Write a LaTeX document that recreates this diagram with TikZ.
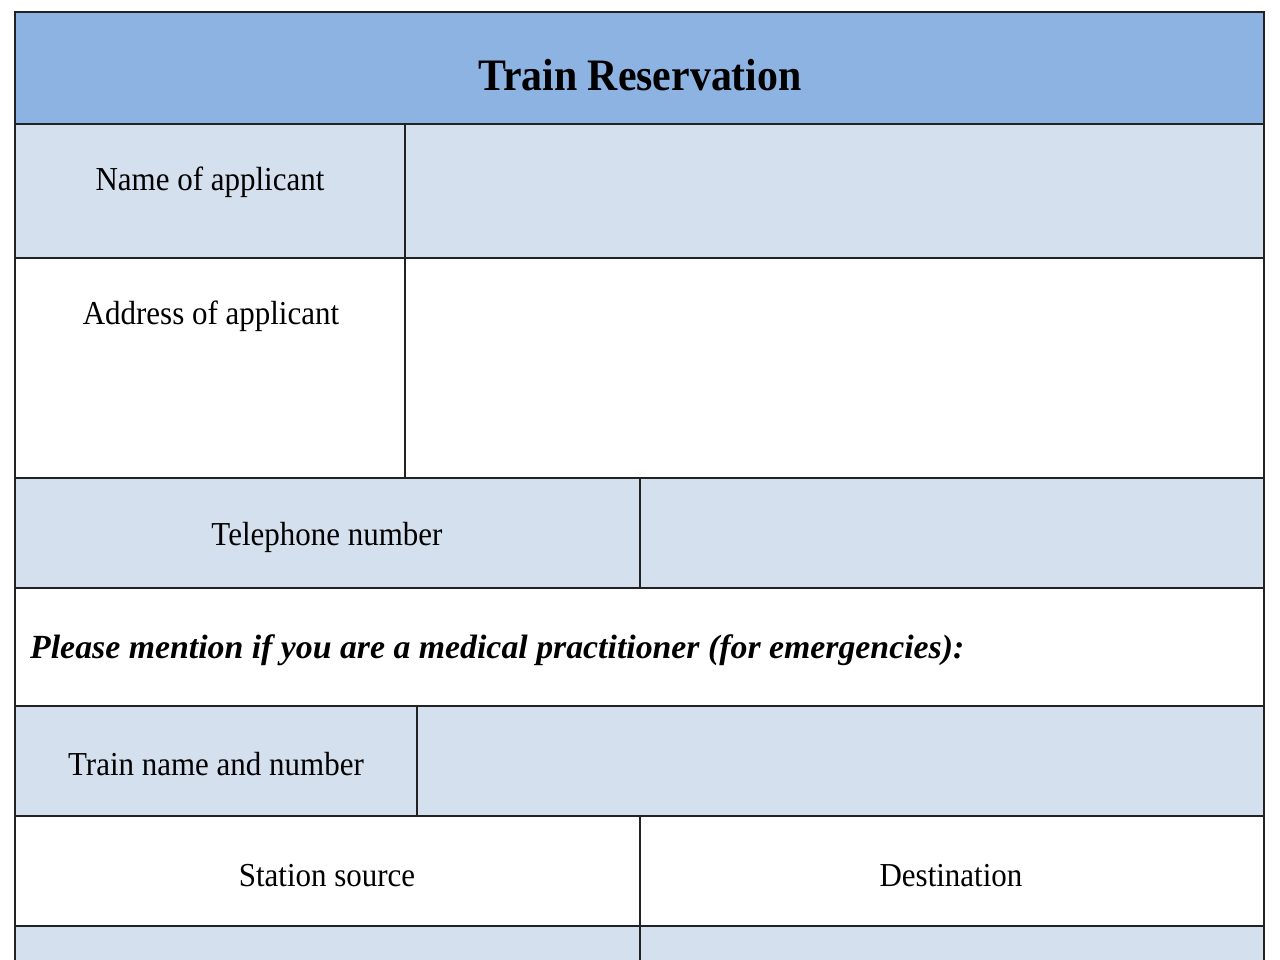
\documentclass[tikz,border=0pt]{standalone}
\usepackage{fontspec}
\usepackage{graphicx}
\setmainfont{Liberation Serif}
\definecolor{hdr}{HTML}{8DB3E2}
\definecolor{lite}{HTML}{D5E0EF}
\definecolor{rule}{HTML}{222222}
\newcommand{\narrowtxt}[1]{\scalebox{0.925}[1]{#1}}
\begin{document}
\begin{tikzpicture}[x=1pt,y=-1pt,
  gridline/.style={draw=rule,line width=2pt},
  label/.style={inner sep=0pt,font=\fontsize{33.5}{36}\selectfont,text=black,anchor=center}]
\useasboundingbox (0,0) rectangle (1280,960);
\clip (0,0) rectangle (1280,960);
\fill[white] (0,0) rectangle (1280,960);
% fills
\fill[hdr] (15,12) rectangle (1264,124);
\fill[lite] (15,124) rectangle (1264,258);
\fill[lite] (15,478) rectangle (1264,588);
\fill[lite] (15,706) rectangle (1264,816);
\fill[lite] (15,926) rectangle (1264,980);
% horizontal rules
\foreach \yy in {124,258,478,588,706,816,926}
  \draw[gridline] (15,\yy) -- (1264,\yy);
% vertical rules
\draw[gridline] (405,124) -- (405,478);
\draw[gridline] (640,478) -- (640,588);
\draw[gridline] (417,706) -- (417,816);
\draw[gridline] (640,816) -- (640,980);
% outer border
\draw[draw=rule,line width=2.6pt] (15,980) -- (15,12) -- (1264,12) -- (1264,980);
% texts
\node[label,font=\bfseries\fontsize{45}{48}\selectfont] (title) at (640,75) {\scalebox{0.93}[1]{Train Reservation}};
\node[label] (name) at (210,182.5) {\narrowtxt{Name of applicant}};
\node[label] (addr) at (211,316.5) {\narrowtxt{Address of applicant}};
\node[label] (tel) at (327,537.5) {\narrowtxt{Telephone number}};
\node[label,anchor=west,font=\bfseries\itshape\fontsize{33.8}{36}\selectfont] (med) at (30,650) {Please mention if you are a medical practitioner (for emergencies):};
\node[label] (train) at (216,764.5) {\narrowtxt{Train name and number}};
\node[label] (src) at (327,875.5) {\narrowtxt{Station source}};
\node[label] (dest) at (951,875.5) {\narrowtxt{Destination}};
\end{tikzpicture}
\end{document}
